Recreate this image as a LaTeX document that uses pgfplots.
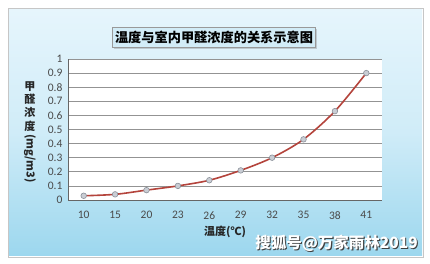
\documentclass[border=0pt]{standalone}
\usepackage{pgfplots}
\pgfplotsset{compat=1.18}
\usepackage{fontspec}
\setmainfont{Carlito}
\newfontfamily\cjk{Noto Sans CJK SC}
\usetikzlibrary{shadows}
\definecolor{bgtop}{HTML}{E6F5FC}
\definecolor{bgbot}{HTML}{9CD7EE}
\definecolor{titleblue}{HTML}{D2ECF7}
\definecolor{linered}{HTML}{B4443C}
\definecolor{mkfill}{HTML}{C9CDD4}
\definecolor{mkdraw}{HTML}{8A9099}
\definecolor{tickgray}{HTML}{4A4A4A}
\begin{document}
\begin{tikzpicture}[x=1pt,y=1pt]
\fill[white] (0,0) rectangle (430,264);
\shade[top color=bgtop, bottom color=bgbot, middle color=bgtop!70!bgbot] (9,8) rectangle (422,255);
\draw[gray!45, line width=0.8pt] (8,7) rectangle (423,256);
\node[draw=gray!80, fill=titleblue, drop shadow={opacity=0.35, shadow xshift=1.5pt, shadow yshift=-1.5pt}, inner xsep=2.5pt, inner ysep=3.5pt, font=\cjk\bfseries\fontsize{13.2}{15}\selectfont] at (214,226.5) {温度与室内甲醛浓度的关系示意图};
\begin{axis}[
  at={(68pt,64pt)}, anchor=south west, scale only axis,
  width=314pt, height=141pt,
  xmin=-0.5, xmax=9.5, ymin=0, ymax=1,
  xtick={0,1,2,3,4,5,6,7,8,9},
  xticklabels={10,15,20,23,26,29,32,35,38,41},
  ytick={0,0.1,0.2,0.3,0.4,0.5,0.6,0.7,0.8,0.9,1},
  yticklabels={0,0.1,0.2,0.3,0.4,0.5,0.6,0.7,0.8,0.9,1},
  ymajorgrids, grid style={gray!85, line width=0.6pt},
  axis x line*=bottom, axis y line*=left,
  axis line style={-, draw=gray!80!black, line width=0.6pt},
  major tick length=0pt,
  axis background/.style={fill=white},
  ticklabel style={font=\fontsize{11.5}{12}\selectfont, text=tickgray},
  xticklabel style={yshift=-8pt},
  yticklabel style={xshift=-2pt},
  clip=false,
]
\addplot[linered, line width=1.6pt, smooth, tension=0.5, mark=*, mark size=2.8pt, mark options={fill=mkfill, draw=mkdraw, line width=0.6pt}]
coordinates {(0,0.03) (1,0.04) (2,0.07) (3,0.10) (4,0.14) (5,0.21) (6,0.30) (7,0.43) (8,0.63) (9,0.90)};
\end{axis}
\node[font=\cjk\bfseries\fontsize{11}{12}\selectfont, text=black!85] at (30,132) {\shortstack{甲\\醛\\浓\\度\\\rotatebox{-90}{(mg/m3)}}};
\node[font=\cjk\bfseries\fontsize{11}{12}\selectfont, text=black!85] at (225,32) {温度(℃)};
\node[font=\cjk\bfseries\fontsize{15.5}{18}\selectfont, text=black!75] at (337.6,19.8) {搜狐号@万家雨林2019};
\node[font=\cjk\bfseries\fontsize{15.5}{18}\selectfont, text=white] at (336.5,21) {搜狐号@万家雨林2019};
\end{tikzpicture}
\end{document}
